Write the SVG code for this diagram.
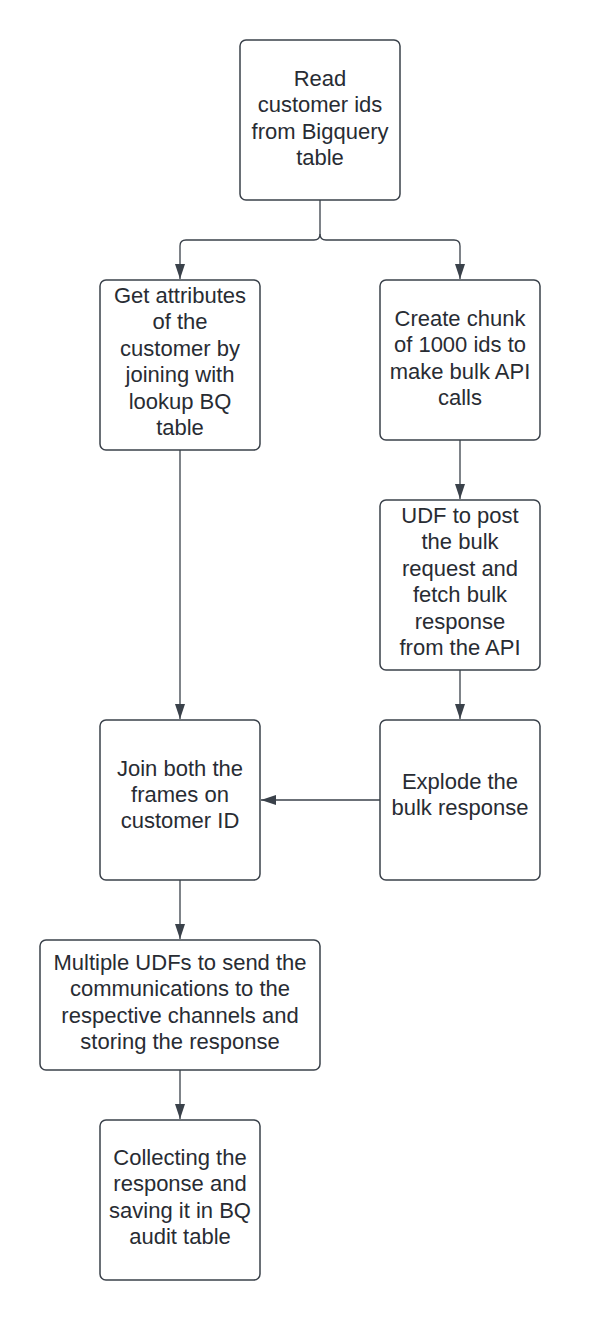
<svg xmlns="http://www.w3.org/2000/svg" width="593" height="1325" viewBox="0 0 593 1325">
<style>
.box{fill:#ffffff;stroke:#3a414a;stroke-width:1.5}
.lbl{font-family:"Liberation Sans",Arial,sans-serif;font-size:22px;fill:#282c33;text-anchor:middle}
.con{fill:none;stroke:#3a414a;stroke-width:1.3}
</style>
<defs>
<marker id="ah" markerUnits="userSpaceOnUse" markerWidth="16" markerHeight="12" refX="15" refY="6" orient="auto">
<path d="M0,1 L15,6 L0,11 z" fill="#3a414a"/>
</marker>
</defs>
<rect width="593" height="1325" fill="#ffffff"/>
<g id="connectors">
<path class="con" d="M320,200 V234 Q320,240 314,240 H186 Q180,240 180,246 V279" marker-end="url(#ah)"/>
<path class="con" d="M320,234 Q320,240 326,240 H454 Q460,240 460,246 V279" marker-end="url(#ah)"/>
<path class="con" d="M180,450 V719" marker-end="url(#ah)"/>
<path class="con" d="M460,440 V499" marker-end="url(#ah)"/>
<path class="con" d="M460,670 V719" marker-end="url(#ah)"/>
<path class="con" d="M380,800 H261" marker-end="url(#ah)"/>
<path class="con" d="M180,880 V939" marker-end="url(#ah)"/>
<path class="con" d="M180,1070 V1119" marker-end="url(#ah)"/>
</g>
<g id="node-read">
<rect class="box" x="240" y="40" width="160" height="160" rx="6"/>
<text class="lbl" y="86"><tspan x="320">Read</tspan><tspan x="320" dy="26.4">customer ids</tspan><tspan x="320" dy="26.4">from Bigquery</tspan><tspan x="320" dy="26.4">table</tspan></text>
</g>
<g id="node-attributes">
<rect class="box" x="100" y="280" width="160" height="170" rx="6"/>
<text class="lbl" y="303"><tspan x="180">Get attributes</tspan><tspan x="180" dy="26.4">of the</tspan><tspan x="180" dy="26.4">customer by</tspan><tspan x="180" dy="26.4">joining with</tspan><tspan x="180" dy="26.4">lookup BQ</tspan><tspan x="180" dy="26.4">table</tspan></text>
</g>
<g id="node-chunk">
<rect class="box" x="380" y="280" width="160" height="160" rx="6"/>
<text class="lbl" y="326"><tspan x="460">Create chunk</tspan><tspan x="460" dy="26.4">of 1000 ids to</tspan><tspan x="460" dy="26.4">make bulk API</tspan><tspan x="460" dy="26.4">calls</tspan></text>
</g>
<g id="node-udf">
<rect class="box" x="380" y="500" width="160" height="170" rx="6"/>
<text class="lbl" y="523"><tspan x="460">UDF to post</tspan><tspan x="460" dy="26.4">the bulk</tspan><tspan x="460" dy="26.4">request and</tspan><tspan x="460" dy="26.4">fetch bulk</tspan><tspan x="460" dy="26.4">response</tspan><tspan x="460" dy="26.4">from the API</tspan></text>
</g>
<g id="node-explode">
<rect class="box" x="380" y="720" width="160" height="160" rx="6"/>
<text class="lbl" y="789"><tspan x="460">Explode the</tspan><tspan x="460" dy="26.4">bulk response</tspan></text>
</g>
<g id="node-join">
<rect class="box" x="100" y="720" width="160" height="160" rx="6"/>
<text class="lbl" y="775.6"><tspan x="180">Join both the</tspan><tspan x="180" dy="26.4">frames on</tspan><tspan x="180" dy="26.4">customer ID</tspan></text>
</g>
<g id="node-multiple">
<rect class="box" x="40" y="940" width="280" height="130" rx="6"/>
<text class="lbl" y="970"><tspan x="180">Multiple UDFs to send the</tspan><tspan x="180" dy="26.4">communications to the</tspan><tspan x="180" dy="26.4">respective channels and</tspan><tspan x="180" dy="26.4">storing the response</tspan></text>
</g>
<g id="node-collect">
<rect class="box" x="100" y="1120" width="160" height="160" rx="6"/>
<text class="lbl" y="1165"><tspan x="180">Collecting the</tspan><tspan x="180" dy="26.4">response and</tspan><tspan x="180" dy="26.4">saving it in BQ</tspan><tspan x="180" dy="26.4">audit table</tspan></text>
</g>
</svg>
